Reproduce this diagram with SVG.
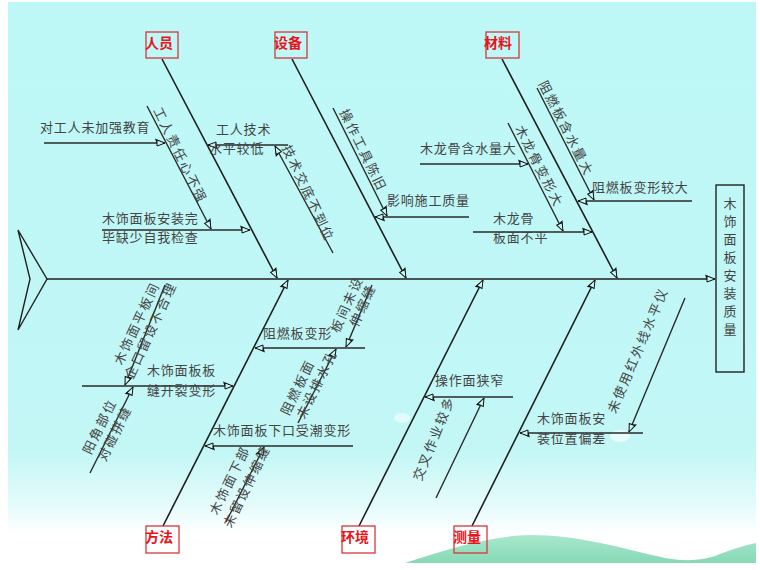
<svg xmlns="http://www.w3.org/2000/svg" width="760" height="570" viewBox="0 0 760 570">
<style>
.t{font-family:"Noto Sans CJK SC","Noto Sans",sans-serif;font-size:13px;fill:#444;letter-spacing:0.8px}
.r{font-family:"Noto Sans CJK SC","Noto Sans",sans-serif;font-size:13px;fill:#444;letter-spacing:2px;text-anchor:middle;dominant-baseline:central}
.cat{font-family:"Noto Sans CJK SC","Noto Sans",sans-serif;font-size:14px;font-weight:bold;fill:#e8141a}
.cb{fill:none;stroke:#d8363a;stroke-width:1.3}
.bone{stroke:#1e1e1e;stroke-width:1.6;fill:none;marker-end:url(#a)}
.sub{stroke:#2a2a2a;stroke-width:1.4;fill:none;marker-end:url(#a)}
</style>
<defs>
<linearGradient id="bg" x1="0" y1="0" x2="0" y2="1">
<stop offset="0" stop-color="#bdf8f7"/>
<stop offset="0.8" stop-color="#c2f7f6"/>
<stop offset="0.9" stop-color="#e6fbfb"/>
<stop offset="0.95" stop-color="#ffffff"/>
<stop offset="1" stop-color="#ffffff"/>
</linearGradient>
<linearGradient id="hill" x1="0" y1="0" x2="0" y2="1">
<stop offset="0" stop-color="#a8e8cc"/>
<stop offset="1" stop-color="#86d9b6"/>
</linearGradient>
<marker id="a" viewBox="0 0 10 10" refX="10" refY="5" markerWidth="10" markerHeight="10" markerUnits="userSpaceOnUse" orient="auto">
<path d="M0,0.5 L6.5,3.4 L1.5,5 Z" fill="#111"/>
<path d="M2,2 L10,5 L2,8 Z" fill="#c8f8f7" stroke="#111" stroke-width="1"/>
</marker>
</defs>
<rect x="0" y="0" width="760" height="570" fill="#ffffff"/>
<rect x="8" y="2" width="748" height="561" fill="url(#bg)"/>
<g id="background-scene">
<ellipse cx="620" cy="436" rx="10" ry="6" fill="#ffffff" opacity="0.6"/>
<ellipse cx="402" cy="418" rx="8" ry="5" fill="#ffffff" opacity="0.5"/>
<path d="M405,563 C450,548 490,536 530,535 C580,535 620,548 665,558 C690,562 700,560 715,556 C730,550 745,545 756,543 L756,563 Z" fill="url(#hill)"/>
</g>

<g id="connectors">
<path d="M18,230 L47,279 L18,330 L30,279 Z" fill="none" stroke="#222" stroke-width="1.4"/>
<line class="bone" x1="47" y1="279" x2="715" y2="279"/>
<line class="bone" x1="162" y1="59" x2="277" y2="278"/>
<line class="bone" x1="292" y1="59" x2="406" y2="278"/>
<line class="bone" x1="502" y1="59" x2="617" y2="278"/>
<line class="bone" x1="163" y1="526" x2="288" y2="280"/>
<line class="bone" x1="359" y1="526" x2="483" y2="280"/>
<line class="bone" x1="472" y1="526" x2="595" y2="280"/>

<line class="sub" x1="44" y1="143" x2="165" y2="143"/>
<line class="sub" x1="147" y1="106" x2="211" y2="229"/>
<line class="sub" x1="102" y1="230" x2="250" y2="230"/>
<line class="sub" x1="288" y1="145" x2="208" y2="145"/>
<line class="sub" x1="333" y1="253" x2="275" y2="146"/>
<line class="sub" x1="469" y1="217" x2="375" y2="217"/>
<line class="sub" x1="333" y1="108" x2="387" y2="216"/>
<line class="sub" x1="692" y1="201" x2="578" y2="201"/>
<line class="sub" x1="537" y1="88" x2="594" y2="200"/>
<line class="sub" x1="473" y1="232" x2="592" y2="232"/>
<line class="sub" x1="508" y1="123" x2="563" y2="231"/>
<line class="sub" x1="420" y1="164" x2="528" y2="164"/>

<line class="sub" x1="82" y1="386" x2="233" y2="386"/>
<line class="sub" x1="165" y1="285" x2="125" y2="385"/>
<line class="sub" x1="90" y1="473" x2="133" y2="387"/>
<line class="sub" x1="365" y1="348" x2="255" y2="348"/>
<line class="sub" x1="372" y1="285" x2="346" y2="347"/>
<line class="sub" x1="298" y1="423" x2="336" y2="349"/>
<line class="sub" x1="353" y1="446" x2="205" y2="446"/>
<line class="sub" x1="226" y1="522" x2="264" y2="447"/>
<line class="sub" x1="513" y1="397" x2="425" y2="397"/>
<line class="sub" x1="436" y1="498" x2="484" y2="398"/>
<line class="sub" x1="643" y1="433" x2="520" y2="433"/>
<line class="sub" x1="685" y1="298" x2="629" y2="432"/>
</g>

<g id="effect">
<rect x="716" y="185" width="28" height="187" fill="none" stroke="#222" stroke-width="1.4"/>
<text class="t" x="730" text-anchor="middle" style="letter-spacing:0">
<tspan x="730" y="208">木</tspan><tspan x="730" y="226">饰</tspan><tspan x="730" y="244">面</tspan><tspan x="730" y="262">板</tspan><tspan x="730" y="280">安</tspan><tspan x="730" y="298">装</tspan><tspan x="730" y="316">质</tspan><tspan x="730" y="334">量</tspan>
</text>
</g>

<g id="cat-renyuan"><rect class="cb" x="146" y="32" width="32" height="26"/><text class="cat" x="145" y="48">人员</text></g>
<g id="cat-shebei"><rect class="cb" x="275" y="32" width="32" height="26"/><text class="cat" x="274" y="48">设备</text></g>
<g id="cat-cailiao"><rect class="cb" x="486" y="32" width="33" height="26"/><text class="cat" x="484" y="48">材料</text></g>
<g id="cat-fangfa"><rect class="cb" x="146" y="526" width="33" height="27"/><text class="cat" x="145" y="542">方法</text></g>
<g id="cat-huanjing"><rect class="cb" x="342" y="526" width="33" height="27"/><text class="cat" x="341" y="542">环境</text></g>
<g id="cat-celiang"><rect class="cb" x="454" y="526" width="33" height="27"/><text class="cat" x="453" y="542">测量</text></g>

<g id="c1"><text class="t" x="40" y="132">对工人未加强教育</text></g>
<g id="c2"><text class="r" transform="translate(181,155) rotate(64)">工人责任心不强</text></g>
<g id="c3"><text class="t" x="102" y="223">木饰面板安装完</text><text class="t" x="102" y="242">毕缺少自我检查</text></g>
<g id="c4"><text class="t" x="216" y="134">工人技术</text><text class="t" x="209" y="153">水平较低</text></g>
<g id="c5"><text class="r" transform="translate(309,193) rotate(65)">技术交底不到位</text></g>
<g id="c6"><text class="r" transform="translate(364,150) rotate(64)">操作工具陈旧</text></g>
<g id="c7"><text class="t" x="387" y="205">影响施工质量</text></g>
<g id="c8"><text class="r" transform="translate(567,128) rotate(63)">阻燃板含水量大</text></g>
<g id="c9"><text class="t" x="592" y="192">阻燃板变形较大</text></g>
<g id="c10"><text class="t" x="420" y="153">木龙骨含水量大</text></g>
<g id="c11"><text class="r" transform="translate(540,166) rotate(63)">木龙骨变形大</text></g>
<g id="c12"><text class="t" x="493" y="223">木龙骨</text><text class="t" x="493" y="242">板面不平</text></g>

<g id="c13"><text class="t" x="147" y="375">木饰面板板</text><text class="t" x="147" y="395">缝开裂变形</text></g>
<g id="c14"><text class="r" transform="translate(136,323) rotate(-65)">木饰面平板间</text><text class="r" transform="translate(150,330) rotate(-65)">企口留设不合理</text></g>
<g id="c15"><text class="r" transform="translate(99,426) rotate(-64)">阳角部位</text><text class="r" transform="translate(114,433) rotate(-64)">对碰拼缝</text></g>
<g id="c16"><text class="t" x="263" y="338">阻燃板变形</text></g>
<g id="c17"><text class="r" transform="translate(346,304) rotate(-66)">板间未设</text><text class="r" transform="translate(362,305) rotate(-66)">伸缩缝</text></g>
<g id="c18"><text class="r" transform="translate(297,387) rotate(-64)">阻燃板面</text><text class="r" transform="translate(316,384) rotate(-64)">未设排水孔</text></g>
<g id="c19"><text class="t" x="213" y="435">木饰面板下口受潮变形</text></g>
<g id="c20"><text class="r" transform="translate(229,480) rotate(-64)">木饰面下部</text><text class="r" transform="translate(246,486) rotate(-64)">未留设伸缩缝</text></g>
<g id="c21"><text class="t" x="435" y="385">操作面狭窄</text></g>
<g id="c22"><text class="r" transform="translate(433,438) rotate(-68)">交叉作业较多</text></g>
<g id="c23"><text class="t" x="537" y="423">木饰面板安</text><text class="t" x="537" y="443">装位置偏差</text></g>
<g id="c24"><text class="r" transform="translate(637,350) rotate(-67)">未使用红外线水平仪</text></g>
</svg>
